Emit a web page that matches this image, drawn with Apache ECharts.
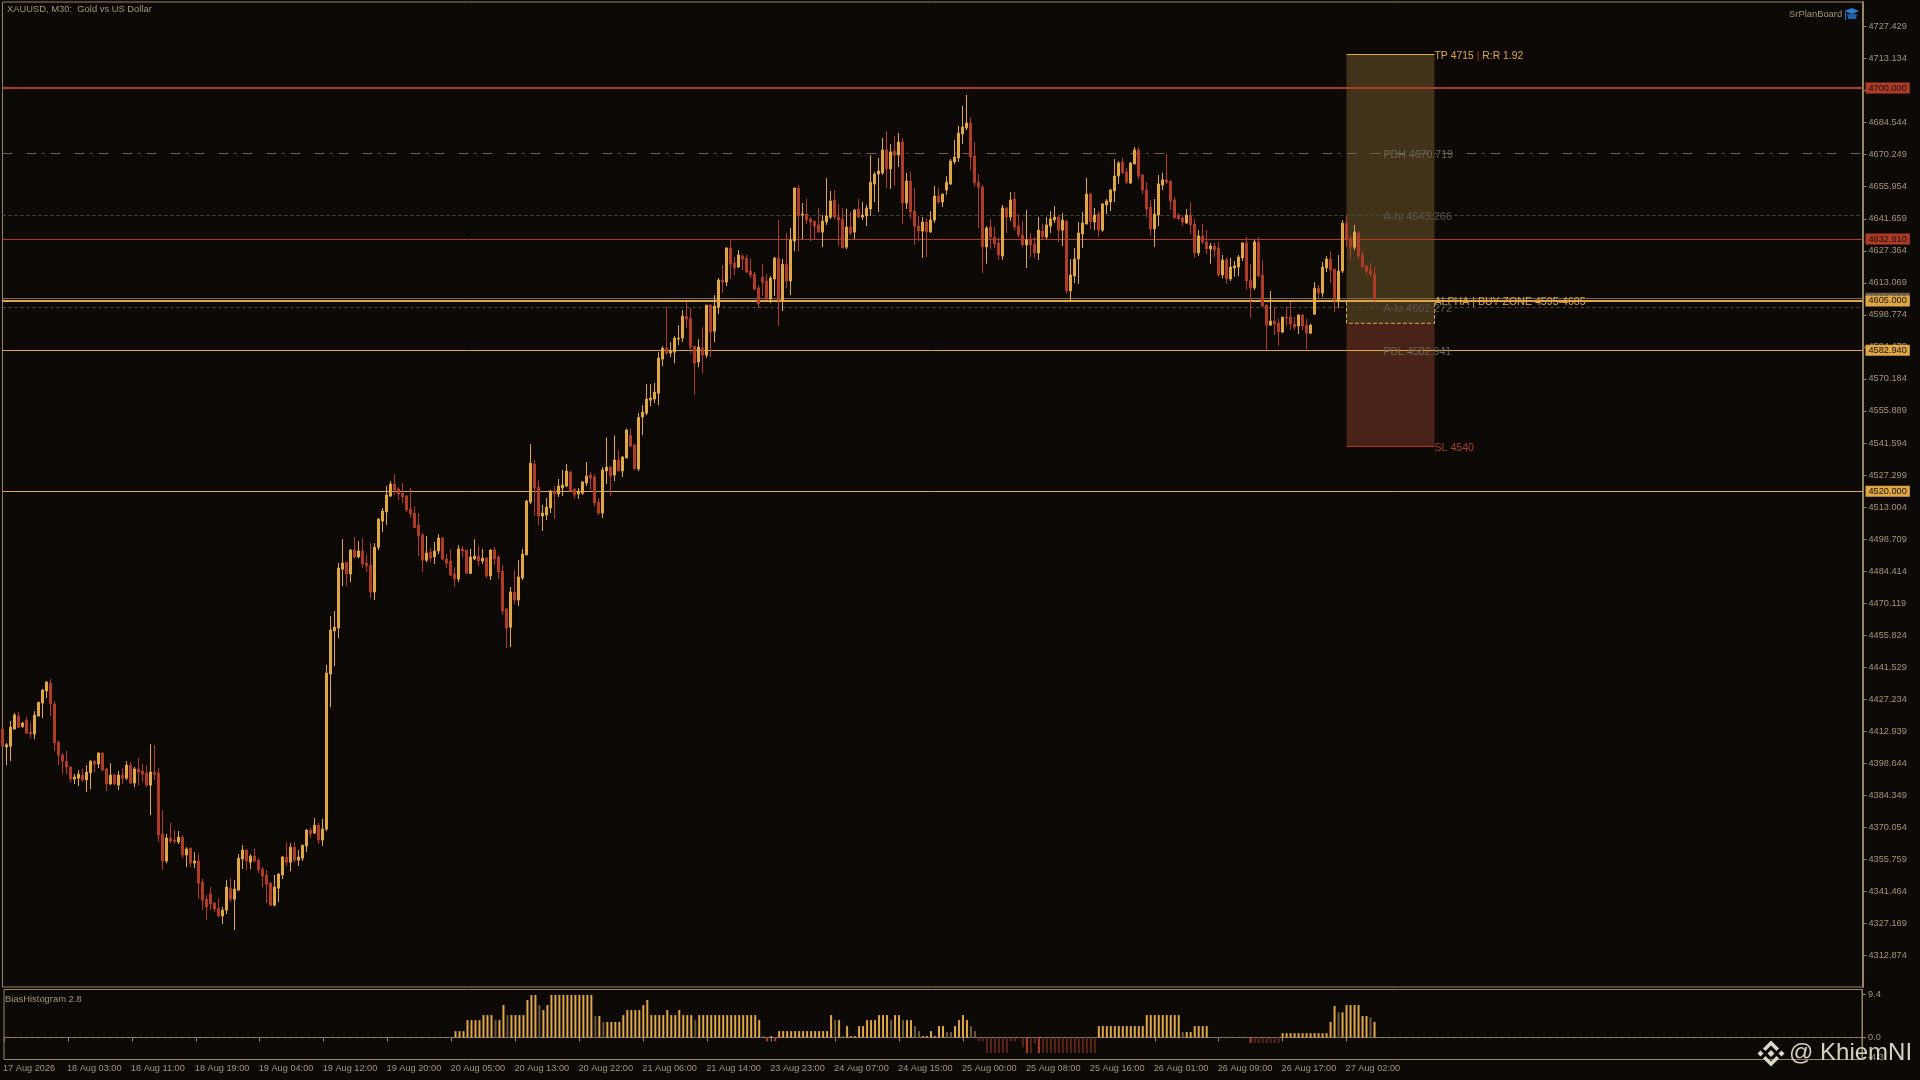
<!DOCTYPE html>
<html>
<head>
<meta charset="utf-8">
<title>XAUUSD M30</title>
<script src="https://cdn.jsdelivr.net/npm/echarts@6/dist/echarts.min.js"></script>
<style>html,body{margin:0;padding:0;background:#0c0906;overflow:hidden}#c{width:1920px;height:1080px}</style>
</head>
<body>
<div id="c"></div>
<script>
const opens=[
4413.9,4405.9,4406.3,4413.9,4419.7,4415.1,4417.9,4412.6,4411.7,4419.7,
4425.5,4430.9,4434.4,4425.1,4408.1,4402.3,4399.6,4397,4391.6,4392,
4393.4,4391.2,4394.3,4399.6,4398.3,4403.2,4396.1,4389.4,4393.4,4388.9,
4393.4,4392,4397.8,4389.8,4396.1,4395.2,4394.3,4388.9,4394.7,4394.3,
4367.1,4355,4365.3,4364.4,4363.5,4365.7,4357.7,4360.8,4354.1,4355,
4345.6,4338,4340.3,4336.3,4334,4330.5,4333.1,4342.9,4338,4342,
4355.9,4359.9,4354.5,4357.2,4355.4,4351.4,4348.8,4345.2,4335.3,4342.9,
4348.8,4356.8,4354.5,4361.2,4355.4,4356.3,4361.7,4368.8,4367.5,4371,
4364.4,4369.3,4438.5,4457.7,4459,4485.3,4488.4,4483.1,4493.8,4490.7,
4493.4,4488,4487.1,4475.1,4495.1,4506.7,4510.8,4517.9,4523.3,4521,
4519.2,4517.9,4512.1,4510.3,4505,4500.5,4489.3,4492.9,4490.7,4493.4,
4499.2,4489.8,4488.9,4483.1,4480.9,4494.3,4493.8,4483.4,4489.8,4491.1,
4488.9,4490.2,4482.2,4493.8,4490.7,4484.4,4467.5,4459.4,4475.1,4471.5,
4481.3,4491.6,4515.2,4532.2,4521.9,4509,4509.4,4512.6,4520.1,4518.8,
4521.5,4522.4,4528.6,4521,4518.8,4519.2,4523.7,4527.3,4526.4,4515.2,
4510.3,4529.1,4530.8,4527.3,4534,4529.1,4534.9,4545,4540.7,4530,
4553.2,4554.9,4560.7,4561.2,4563.8,4579,4583.9,4581.7,4582.1,4588,
4588.4,4598.2,4597.3,4584.8,4577.7,4583.9,4580.8,4603.1,4591.5,4602.2,
4614.3,4613.4,4628.6,4621.9,4620.1,4625,4624.1,4618.3,4617,4610.7,
4615.6,4613.9,4605.8,4614.8,4624.1,4605,4621.4,4613.9,4631.7,4655.4,
4643.3,4643.8,4641.5,4640.6,4638.9,4635.7,4640.2,4642.4,4650,4642.4,
4641.5,4629,4638,4635.7,4646,4642.4,4642.9,4646,4657.2,4661.6,
4662.1,4672.4,4663.9,4671.9,4670.1,4675.9,4648.7,4658.5,4645.1,4638.4,
4636.2,4640.2,4635.8,4641.1,4651.8,4649.1,4654.5,4657.2,4667,4668.8,
4679.5,4682.2,4684.4,4669.7,4658,4655.8,4629.1,4638,4633.5,4630.9,
4625,4646.5,4642.4,4650.5,4638.4,4634.4,4630,4632.6,4630.4,4626.4,
4636.2,4633.5,4638.4,4641.1,4642.4,4636.6,4640.6,4609.4,4616.1,4623.7,
4634.9,4639.3,4652.7,4640.2,4643.8,4636.6,4647.8,4649.1,4654.1,4660.7,
4667,4662.5,4657.6,4666.1,4672.4,4661.2,4654.5,4646.9,4637.1,4643.3,
4656.7,4659,4658.5,4650,4643.3,4642,4639.8,4643.3,4639.3,4626.4,
4634,4631.3,4628.2,4629.5,4628.6,4616.6,4623.3,4614.8,4619.7,4620.1,
4624.2,4630.9,4614.3,4610.8,4631.3,4616.5,4603.2,4594.2,4596,4595.1,
4591.1,4597.8,4597.8,4594.7,4593.8,4598.7,4594.2,4590.6,4599.1,4610.7,
4608.5,4619.7,4623.7,4619.2,4605.4,4618.3,4639.7,4633,4629,4635.3,
4625.5,4620.6,4618.8,4617];
const closes=[
4406.3,4406.9,4414.8,4420.2,4414.7,4416.6,4412.1,4411.7,4420.2,4425.9,
4431.3,4434.9,4425.1,4407.7,4402.3,4399.6,4397,4391.6,4392.5,4393.8,
4391.2,4394.7,4399.6,4398.3,4403.2,4395.6,4389.4,4393.4,4389.4,4393.4,
4392,4397.8,4389.8,4396.1,4394.7,4393.8,4388.9,4394.7,4393.8,4366.6,
4355,4365.3,4363.9,4363.9,4365.7,4357.7,4360.4,4354.1,4355,4345.2,
4337.6,4334.5,4335.8,4333.6,4330.5,4333.1,4343.4,4338,4342.5,4356.3,
4359.9,4355,4357.2,4355,4351,4348.3,4344.7,4335.3,4343.4,4349.2,
4356.8,4354.5,4361.2,4355.4,4356.8,4362.1,4368.8,4367.1,4371,4364.4,
4369.3,4438.9,4458.1,4459.4,4485.8,4488,4483.1,4493.8,4490.7,4493.4,
4487.6,4486.7,4475.1,4495.1,4507.6,4511.2,4518.4,4523.3,4520.6,4518.8,
4517.5,4511.7,4509.9,4503.9,4500.1,4489.3,4492.5,4490.2,4493.4,4499.2,
4489.8,4488,4482.6,4480.9,4494.3,4493.4,4483.4,4490.7,4491.1,4488.9,
4490.2,4482.2,4493.8,4489.8,4484,4466.6,4459,4475.1,4471.5,4481.8,
4492,4515.7,4532.6,4521.5,4509,4510.3,4513,4520.1,4518.8,4522.4,
4522.8,4529.1,4520.1,4518.4,4520.1,4524.2,4526.8,4525.9,4514.8,4510.3,
4529.5,4530.8,4526.8,4534,4529.1,4535.3,4547.4,4540.2,4530,4553,
4555.4,4561.2,4561.6,4564.3,4579.5,4583.9,4581.7,4582.6,4588.4,4588.4,
4598.2,4596.9,4584.4,4577.2,4584.4,4580.8,4603.1,4591.1,4602.7,4614.3,
4613.4,4628.6,4621.4,4619.7,4625.5,4623.7,4617.9,4616.5,4610.3,4603.6,
4613.4,4605.8,4615.2,4624.1,4605.4,4621.4,4613.9,4632.2,4655.4,4642.9,
4643.8,4641.1,4640.2,4638.4,4635.7,4640.6,4642.9,4649.6,4642.4,4641.1,
4628.6,4638,4635.3,4645.5,4642.4,4643.3,4646.4,4658,4661.6,4663,
4672.4,4663.9,4671.5,4670.1,4675.9,4648.7,4658.5,4644.7,4638.4,4636.2,
4640.2,4635.8,4641.1,4651.8,4649.1,4652.7,4658,4667.4,4669.2,4679.9,
4682.6,4684.4,4669.2,4657.6,4655.8,4629.1,4637.5,4633.5,4630.4,4625.5,
4646.5,4642.4,4650,4638,4634.4,4630,4632.2,4630,4626.4,4636.6,
4633.5,4638.9,4641.6,4642.4,4636.6,4641.1,4609.4,4616.6,4623.7,4635.3,
4639.8,4652.7,4640.2,4643.3,4636.6,4648.3,4649.6,4654.5,4660.7,4666.5,
4662.1,4658,4666.5,4672.4,4660.7,4654.5,4646,4637.1,4643.8,4657.2,
4659,4658,4649.6,4642,4641.6,4640.2,4643.3,4638.9,4626.4,4634,
4631.3,4628.2,4629.5,4627.7,4616.6,4623.3,4614.8,4620.1,4620.6,4624.6,
4630.9,4613.9,4610.8,4631.3,4616.1,4602.7,4594.2,4596,4594.7,4591.1,
4597.8,4597.3,4594.7,4593.3,4598.7,4593.8,4590.6,4594.2,4610.7,4608.5,
4620.1,4623.7,4618.8,4605.4,4618.3,4639.7,4632.6,4629,4635.7,4625,
4620.1,4618.3,4617,4605.8];
const highs=[
4413.9,4407.7,4417.5,4421.1,4421.5,4417.2,4419.3,4416.6,4421.9,4425.9,
4431.8,4435.3,4436.2,4426.4,4408.6,4403.2,4404.1,4397.4,4393.8,4395.6,
4396.1,4397.8,4400,4400,4403.6,4403.6,4396.5,4398.7,4393.8,4395.2,
4396.5,4399.6,4399.2,4397,4401,4398.3,4397.8,4407.2,4406.8,4396.5,
4377.8,4367.1,4372,4368.8,4368.4,4366.6,4361.2,4360.8,4359,4358.1,
4347,4339.8,4343.4,4336.7,4338.5,4334.5,4346.5,4347.4,4346.5,4358.1,
4362.1,4360.4,4358.1,4360.4,4356.3,4352.3,4351,4345.6,4348.8,4349.6,
4357.2,4363.5,4363,4363.5,4359.9,4362.1,4369.3,4369.7,4374.2,4372,
4373.8,4442.5,4464.3,4466.6,4488,4498.7,4488.4,4494.3,4499.6,4497.8,
4499.2,4492,4496.9,4496.9,4508.1,4512.6,4522.4,4524.6,4527.7,4521.9,
4523.7,4518.4,4521.5,4513.4,4510.3,4501.4,4500.1,4494.7,4497.4,4500.9,
4499.6,4492,4494.3,4486.2,4496,4495.6,4493.8,4494.3,4498.7,4495.6,
4494.3,4490.7,4494.3,4495.1,4491.6,4487.1,4467.9,4477.3,4484.9,4489.3,
4494.3,4516.1,4541.1,4534,4525,4513.9,4517,4520.6,4522.4,4525.5,
4529.5,4532.2,4529.1,4521.5,4521.5,4524.6,4533.1,4528.6,4527.7,4517,
4530.8,4544,4531.3,4545,4538.4,4535.8,4548,4548,4541.1,4555,
4558.5,4567.9,4567.9,4568.3,4582.1,4584.8,4602.2,4586.6,4589.3,4594.2,
4600.9,4604.5,4601.8,4584.8,4587.9,4593.3,4603.1,4603.6,4607.6,4615.2,
4621,4629,4632.2,4624.6,4627.7,4625.9,4625.5,4623.7,4617.9,4612.1,
4621.4,4617,4616.1,4624.6,4641.1,4623.7,4635.3,4637.5,4655.4,4656.7,
4648.7,4650.5,4642.4,4640.6,4646.4,4643.3,4659.8,4654,4654.5,4648.2,
4646.4,4646,4644.7,4646,4650.5,4649.1,4647.8,4670.1,4662.5,4668.8,
4677.7,4680.8,4675,4678.6,4679.9,4677.7,4662.1,4662.5,4655.4,4642.9,
4642.4,4642,4645.1,4656.3,4655.4,4652.7,4660.7,4668.3,4676.8,4683.1,
4692,4696.9,4687.1,4675.9,4661.6,4656.7,4638.4,4641.6,4638,4633.1,
4647.8,4646.9,4653.6,4653.6,4643.8,4640.6,4645.6,4635.3,4633.5,4642.4,
4639.3,4642.4,4645.1,4647.3,4643.3,4644.2,4641.1,4623.7,4628.6,4640.2,
4644.7,4659.9,4653.1,4646.5,4645.1,4648.7,4650.5,4655,4668.3,4667.4,
4668.8,4664.3,4667,4673.7,4673.7,4661.6,4658,4650,4650.5,4661.2,
4662.1,4670.5,4658.5,4651.4,4644.2,4643.3,4646,4649.1,4641.6,4636.6,
4639.3,4636.6,4630.9,4630.9,4631.3,4625.5,4624.2,4624.2,4622.8,4625.5,
4630.9,4633.5,4621.5,4632.2,4633.5,4623.2,4603.2,4609.4,4602.3,4596.9,
4597.8,4602.3,4604.5,4597.8,4599.1,4599.1,4596.9,4594.7,4613.4,4612,
4622.3,4625,4627.2,4619.2,4625.5,4641.1,4643.3,4634,4638.9,4635.7,
4627.2,4621,4621.9,4620.1];
const lows=[
4406.3,4397.8,4399.6,4413.9,4414.4,4414.4,4411.7,4409.9,4409.4,4419.7,
4418.8,4427.7,4419.7,4404.1,4397.8,4393.8,4393.8,4390.3,4389.4,4388.5,
4390.3,4385.8,4387.1,4394.7,4396.5,4395.2,4386.2,4388.9,4388.9,4386.7,
4389.4,4391.2,4389.4,4388,4388.9,4390.3,4388,4375.5,4391.2,4363.5,
4351,4354.1,4363,4362.6,4362.6,4356.3,4352.3,4352.3,4351.9,4338,
4333.1,4328.7,4333.1,4332.2,4330,4326.9,4331.3,4336.7,4324.2,4342,
4351.4,4351,4351.4,4354.5,4349.6,4343.4,4336.3,4334.9,4334.9,4336.7,
4347,4352.8,4350.5,4354.5,4352.8,4355,4359,4365.3,4367.1,4362.6,
4361.7,4368.4,4423.7,4442,4454.5,4477.7,4477.7,4479.5,4490.2,4490.2,
4485.8,4484,4472.4,4471.5,4493.8,4501.8,4505,4517.5,4518.4,4516.1,
4514.8,4510.8,4508.1,4503.6,4491.1,4484,4488.4,4488.4,4487.6,4492,
4489.3,4485.8,4482.2,4477.3,4479.5,4490.7,4483.1,4483.1,4489.3,4486.7,
4487.6,4481.3,4480.4,4487.1,4480.9,4464.8,4450.1,4450.5,4469.7,4468.8,
4480.4,4491.6,4514.3,4509,4505,4502.3,4507.2,4510.3,4507.6,4517.5,
4517.9,4521.9,4520.1,4516.6,4516.6,4518.4,4522.4,4520.6,4513.4,4509.4,
4508.1,4523.3,4517.9,4524.6,4529.1,4526.4,4534.9,4539.8,4530,4529.1,
4545.1,4554,4558,4559.4,4558.5,4575.9,4580.8,4579.9,4577.2,4585.3,
4586.6,4592.9,4581.7,4562.9,4575.4,4572.8,4579.5,4579.9,4586.6,4599.1,
4608.5,4611.6,4614.8,4616.5,4619.7,4618.8,4617.4,4615.2,4609.8,4601.8,
4607.2,4605.4,4604,4607.2,4593.8,4600.5,4610.7,4607.6,4627.2,4627.2,
4632.6,4639.3,4631.7,4632.6,4635.7,4629,4638.9,4641.5,4641.5,4629.5,
4628.6,4628.1,4634.4,4632.6,4642,4641.1,4638.4,4642.9,4649.1,4644.7,
4661.2,4655.4,4655,4656.3,4664.8,4639.3,4646,4641.6,4630,4631.7,
4624.2,4624.6,4635.3,4639.8,4648.3,4646.9,4652.3,4656.7,4666.1,4667,
4675,4681.3,4663.4,4655.8,4637.5,4617.5,4621.5,4628.2,4628.6,4623.3,
4623.3,4635.3,4640.6,4636.6,4633.5,4629.1,4619.7,4624.6,4624.2,4623.3,
4632.6,4632.6,4635.3,4639.8,4631.3,4629.5,4608.1,4605.4,4613,4612.6,
4628.6,4639.3,4637.1,4636.6,4633.5,4635.8,4643.8,4645.1,4649.1,4657.2,
4661.6,4657.2,4657.2,4666.1,4659.4,4652.7,4642.4,4634,4629.1,4638.4,
4654.5,4657.2,4645.6,4642,4641.1,4638.4,4639.3,4634.9,4624.2,4625,
4630.4,4625.9,4621.5,4624.6,4615.7,4615,4612.6,4613.9,4615.7,4616.1,
4622.8,4609.9,4597.4,4609.9,4615.7,4602.4,4583.1,4593.8,4589.8,4584.9,
4590.6,4593.8,4592,4592,4590.2,4592,4583.5,4590.2,4599.1,4606.3,
4606.7,4617.9,4613,4600,4601.8,4617.4,4629,4623.2,4627.7,4623.7,
4620.1,4616.5,4615.7,4604];

const biasFirstBar=113;
const biasValues=[
1.4,1.4,1.4,3.8,3.8,3.8,3.8,4.9,4.9,4.9,3.8,3.8,7.1,4.9,4.9,4.9,4.9,4.9,8.2,9.3,9.3,7.1,6,7.1,
9.3,9.3,9.3,9.3,9.3,9.3,9.3,9.3,9.3,9.3,9.3,4.7,4.7,3.4,3.4,3.4,3.4,3.4,4.9,6,6,6,6,
7.1,8.2,4.9,4.9,4.9,4.9,6,4.9,4.9,6,4.9,4.9,4.9,3.8,
4.9,4.9,4.9,4.9,4.9,4.9,4.9,4.9,4.9,4.9,4.9,4.9,4.9,4.9,4.9,3.8,0.3,-0.8,0.3,-0.8,
1.4,1.4,1.4,1.4,1.4,1.4,1.4,1.4,1.4,1.4,1.4,1.4,1.4,4.9,3.8,3.8,0.3,2.5,0.3,0.3,2.5,2.5,
3.8,3.8,3.8,4.9,4.9,4.9,3.8,4.9,4.9,3.8,3.8,3.8,2.5,1.4,0.3,0.3,1.4,0.3,2.5,2.5,1.2,1.2,2.5,3.8,4.9,3.8,2.5,1.4,
-0.8,-0.8,-3.4,-3.4,-3.4,-3.4,-3.4,-3.4,-0.8,-0.8,-0.2,-2.1,-3.4,-3.4,-1.2,-3.4,
-3.4,-3.4,-3.4,-3.4,-3.4,-3.4,-3.4,-3.4,-3.4,-3.4,-3.4,-3.4,-3.4,-3.4,
2.5,2.5,2.5,2.5,2.5,2.5,2.5,2.5,2.5,2.5,2.5,2.5,4.9,4.9,4.9,4.9,4.9,4.9,4.9,4.9,4.9,
1.2,1.2,1.2,2.5,2.5,2.5,2.5,0.15,0.15,0.15,0.15,0.15,0.15,0.15,0.15,0.15,0.15,
-1.2,-1.2,-1.2,-1.2,-1.2,-1.2,-1.2,-1.2,
0.95,0.95,0.95,0.95,0.95,0.95,0.95,0.95,0.95,0.95,0.95,0.95,3.4,6.9,5.5,5.5,7.1,7.1,7.1,7.1,4.7,4.7,4.4,3.4];
const biasStrength=[
1,1,1,1,1,1,1,1,1,1,0,1,1,0,1,1,1,1,1,1,1,0,1,1,
1,1,1,1,1,1,1,1,1,1,1,0,1,0,1,1,1,1,1,1,1,1,1,
1,1,1,1,1,1,1,1,1,1,1,1,1,0,
1,1,1,1,1,1,1,1,1,1,1,1,1,1,1,1,0,1,1,1,
1,1,1,1,1,1,1,1,1,1,1,1,1,1,0,1,0,1,1,1,1,1,
1,1,1,1,1,1,0,1,1,0,1,1,0,0,1,1,1,1,1,1,0,0,1,1,1,1,0,0,
0,0,0,0,0,0,0,0,0,0,0,0,1,0,0,1,
0,0,0,0,0,0,0,0,0,0,0,0,0,0,
1,1,1,1,1,1,1,1,1,1,1,1,1,1,1,1,1,1,1,1,1,
0,1,1,1,1,1,1,0,0,0,0,0,0,0,0,0,0,
1,0,0,0,0,0,0,0,
1,1,1,1,1,1,1,1,1,1,1,1,1,1,0,1,1,1,1,1,1,1,0,1];

const priceTicks=[4727.429,4713.134,4698.839,4684.544,4670.249,4655.954,4641.659,4627.364,4613.069,4598.774,4584.479,4570.184,4555.889,4541.594,4527.299,4513.004,4498.709,4484.414,4470.119,4455.824,4441.529,4427.234,4412.939,4398.644,4384.349,4370.054,4355.759,4341.464,4327.169,4312.874];
const biasTicks=[9.4,0,-4.3];
const timeLabels=['17 Aug 2026','18 Aug 03:00','18 Aug 11:00','18 Aug 19:00','19 Aug 04:00','19 Aug 12:00','19 Aug 20:00','20 Aug 05:00','20 Aug 13:00','20 Aug 22:00','21 Aug 06:00','21 Aug 14:00','23 Aug 23:00','24 Aug 07:00','24 Aug 15:00','25 Aug 00:00','25 Aug 08:00','25 Aug 16:00','26 Aug 01:00','26 Aug 09:00','26 Aug 17:00','27 Aug 02:00'];
const barsPerLabel=16, slotCount=466;
const redLevels=[4700,4632.61];
const goldLevels=[4605,4582.94,4520];
const prevDayHigh=4670.719, asiaHigh=4643.266, asiaLow=4602.272, prevDayLow=4582.941, extraLevel=4606.2;
const takeProfit=4715, stopLoss=4540, zoneLow=4595, zoneHigh=4605;
const planStartBar=336, planEndBar=358, noteBar=345;

const C={bg:'#0c0906',gold:'#dfa746',red:'#b03c28',txt:'#a3967a',frame:'#94866a',dim:'#6a664e',faint:'#4d4a3f',goldFill:'#41321a',redFill:'#4a2318',goldW:'#6b5a38',redW:'#5a2418',tagInk:'#160f06'};
const FONT='"Liberation Sans",Arial,sans-serif';

const categories=[];
for(let i=0;i<slotCount;i++){categories.push(i%barsPerLabel===0&&timeLabels[i/barsPerLabel]?timeLabels[i/barsPerLabel]:'');}
const candleData=opens.map((o,i)=>[o,closes[i],lows[i],highs[i]]);
const biasData=categories.map((_,i)=>{const v=biasValues[i-biasFirstBar];return v===undefined?null:{value:v,itemStyle:{color:v>=0?(biasStrength[i-biasFirstBar]?C.gold:C.goldW):(biasStrength[i-biasFirstBar]?C.red:C.redW)}};});

function level(v,color,width,type,tag,tagColor){
  return {yAxis:v,lineStyle:{color:color,width:width,type:type},
    label:tag?{show:true,position:'end',distance:3,formatter:v.toFixed(3),backgroundColor:tagColor||color,color:C.tagInk,padding:[1,3,0,3],fontSize:9.2,fontFamily:FONT,height:10,lineHeight:10}:{show:false}};
}
function note(i,v,text,color,size,dx){
  return {coord:[i,v],symbol:'circle',symbolSize:0,itemStyle:{color:'transparent'},
    label:{show:true,position:'right',distance:0,offset:[dx||0,1.5],formatter:text,color:color,fontSize:size||10.6,fontFamily:FONT}};
}
const tpNote=note(planEndBar,takeProfit,'{a|TP 4715 }{b||}{a| R:R 1.92}',C.gold,10.4);
tpNote.label.rich={a:{color:C.gold,fontSize:10.4,fontFamily:FONT},b:{color:C.red,fontSize:10.4,fontFamily:FONT}};
const LOGO_X=1771, LOGO_Y=1053.5, LOGO='#ddd8cc';
const option={
  backgroundColor:C.bg,animation:false,
  grid:[
    {left:2.5,top:2,width:1860,height:985,show:true,borderColor:C.frame,borderWidth:1,backgroundColor:'transparent'},
    {left:2,top:989.5,width:1860,height:70,show:true,borderColor:C.frame,borderWidth:1,backgroundColor:'transparent'}
  ],
  xAxis:[
    {type:'category',gridIndex:0,data:categories,boundaryGap:false,axisLine:{show:false},axisTick:{show:false},axisLabel:{show:false},splitLine:{show:false}},
    {type:'category',gridIndex:1,data:categories,boundaryGap:false,axisLine:{show:true,lineStyle:{color:C.frame,width:1}},
     axisTick:{show:true,length:4,lineStyle:{color:C.frame},interval:(i,v)=>v!==''},
     axisLabel:{show:true,interval:(i,v)=>v!=='',align:'left',color:C.txt,fontSize:9.2,fontFamily:FONT,margin:4,padding:[0,0,0,-1],hideOverlap:false},splitLine:{show:false}}
  ],
  yAxis:[
    {type:'value',gridIndex:0,position:'right',min:4298.8,max:4738.4,scale:true,splitLine:{show:false},
     axisLine:{show:true,lineStyle:{color:C.frame,width:2}},
     axisTick:{show:true,length:4,lineStyle:{color:C.frame},customValues:priceTicks},
     axisLabel:{show:true,customValues:priceTicks,margin:6,padding:[2,0,0,0],color:C.txt,fontSize:9.2,fontFamily:FONT,formatter:v=>v.toFixed(3)}},
    {type:'value',gridIndex:1,position:'right',min:-4.8,max:10.5,splitLine:{show:false},
     axisLine:{show:true,lineStyle:{color:C.frame,width:1}},
     axisTick:{show:true,length:4,lineStyle:{color:C.frame},customValues:biasTicks},
     axisLabel:{show:true,customValues:biasTicks,margin:6,padding:[2,0,0,0],color:C.txt,fontSize:9.2,fontFamily:FONT,formatter:v=>v.toFixed(1)}}
  ],
  series:[
    {name:'Plan',type:'line',xAxisIndex:0,yAxisIndex:0,data:[],z:1,silent:true,symbol:'none',
     markArea:{silent:true,z:1,label:{show:false},data:[
       [{xAxis:planStartBar,yAxis:takeProfit,itemStyle:{color:C.goldFill}},{xAxis:planEndBar,yAxis:zoneLow}],
       [{xAxis:planStartBar,yAxis:zoneLow,itemStyle:{color:C.redFill}},{xAxis:planEndBar,yAxis:stopLoss}],
       [{xAxis:planStartBar,yAxis:zoneHigh,itemStyle:{color:'transparent',borderColor:C.gold,borderWidth:1,borderType:[4,2],opacity:1}},{xAxis:planEndBar,yAxis:zoneLow}]
     ]},
     markLine:{silent:true,z:1,symbol:'none',animation:false,data:[
       level(extraLevel,'#7d6a3e',1,'solid',true,'#6b6250'),
       level(redLevels[0],C.red,2,'solid',true),
       level(redLevels[1],C.red,1,'solid',true),
       level(goldLevels[0],C.gold,2,'solid',true),
       level(goldLevels[1],C.gold,1,'solid',true),
       level(goldLevels[2],C.gold,1,'solid',true),
       level(prevDayHigh,C.dim,1,[10,14,10,6,2,6],false),
       level(asiaHigh,C.faint,1,[3,3],false),
       level(asiaLow,C.faint,1,[3,3],false),
       [{coord:[planStartBar,takeProfit],lineStyle:{color:C.gold,width:1,type:'solid'},label:{show:false}},{coord:[planEndBar,takeProfit]}],
       [{coord:[planStartBar,stopLoss],lineStyle:{color:C.red,width:1,type:'solid'},label:{show:false}},{coord:[planEndBar,stopLoss]}]
     ]},
     markPoint:{silent:true,z:6,data:[
       tpNote,
       note(planEndBar,stopLoss,'SL 4540',C.red),
       note(planEndBar,zoneHigh,'ALPHA | BUY ZONE 4595-4605',C.gold),
       note(noteBar,prevDayHigh,'PDH 4670.719','#6e6a54',10.6,1),
       note(noteBar,asiaHigh,'A-hi 4643.266','#5a5646',11,1),
       note(noteBar,asiaLow,'A-lo 4602.272','#5a5646',11,1),
       note(noteBar,prevDayLow,'PDL 4582.941','#6e6a54',10.6,1)
     ]}},
    {name:'XAUUSD',type:'candlestick',xAxisIndex:0,yAxisIndex:0,data:candleData,z:3,barWidth:2,silent:true,
     itemStyle:{color:C.gold,color0:C.red,borderColor:C.gold,borderColor0:C.red,borderWidth:1}},
    {name:'BiasHistogram',type:'bar',xAxisIndex:1,yAxisIndex:1,data:biasData,barWidth:2,silent:true,z:3,
     markLine:{silent:true,z:1,symbol:'none',label:{show:false},lineStyle:{color:'#7a6d52',width:1,type:[3,3]},data:[{yAxis:0}]}}
  ],
  graphic:{elements:[
    {type:'text',x:7,y:5,z:20,style:{text:'XAUUSD, M30:  Gold vs US Dollar',fill:C.txt,font:'9.4px '+FONT}},
    {type:'text',x:5,y:995,z:20,style:{text:'BiasHistogram 2.8',fill:C.txt,font:'9.4px '+FONT}},
    {type:'text',x:1789,y:10,z:20,style:{text:'SrPlanBoard',fill:C.txt,font:'9.4px '+FONT}},
    {type:'polygon',z:20,shape:{points:[[1844,11],[1852,8],[1859,11],[1852,14]]},style:{fill:'#2a7fd0'}},
    {type:'polygon',z:20,shape:{points:[[1847,14],[1857,14],[1856,19],[1848,19]]},style:{fill:'#1c5fa8'}},
    {type:'rect',z:20,shape:{x:1845,y:12,width:1,height:8},style:{fill:'#2a7fd0'}},
    {type:'polygon',z:30,shape:{points:[[LOGO_X,LOGO_Y-13],[LOGO_X+8,LOGO_Y-5],[LOGO_X+5.5,LOGO_Y-2.5],[LOGO_X,LOGO_Y-8],[LOGO_X-5.5,LOGO_Y-2.5],[LOGO_X-8,LOGO_Y-5]]},style:{fill:LOGO}},
    {type:'polygon',z:30,shape:{points:[[LOGO_X,LOGO_Y+13],[LOGO_X+8,LOGO_Y+5],[LOGO_X+5.5,LOGO_Y+2.5],[LOGO_X,LOGO_Y+8],[LOGO_X-5.5,LOGO_Y+2.5],[LOGO_X-8,LOGO_Y+5]]},style:{fill:LOGO}},
    {type:'polygon',z:30,shape:{points:[[LOGO_X,LOGO_Y-3.5],[LOGO_X+3.5,LOGO_Y],[LOGO_X,LOGO_Y+3.5],[LOGO_X-3.5,LOGO_Y]]},style:{fill:LOGO}},
    {type:'polygon',z:30,shape:{points:[[LOGO_X-10.5,LOGO_Y-3],[LOGO_X-7.5,LOGO_Y],[LOGO_X-10.5,LOGO_Y+3],[LOGO_X-13.5,LOGO_Y]]},style:{fill:LOGO}},
    {type:'polygon',z:30,shape:{points:[[LOGO_X+10.5,LOGO_Y-3],[LOGO_X+13.5,LOGO_Y],[LOGO_X+10.5,LOGO_Y+3],[LOGO_X+7.5,LOGO_Y]]},style:{fill:LOGO}},
    {type:'text',x:1789,y:1041,z:30,style:{text:'@ KhiemNI',fill:'#d6d0c2',font:'24px "Liberation Sans",Arial,sans-serif'}}
  ]}
};
const chart=echarts.init(document.getElementById('c'),null,{renderer:'canvas'});
chart.setOption(option);
</script>
</body>
</html>
